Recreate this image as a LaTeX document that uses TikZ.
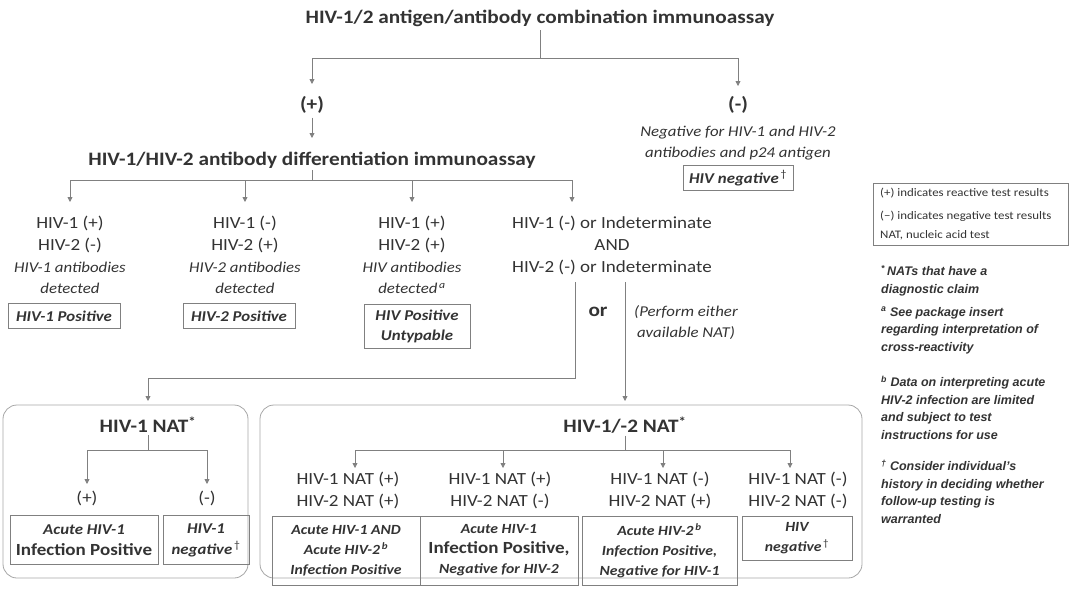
\documentclass[tikz,border=0pt]{standalone}
\usepackage{fontspec}
\setmainfont{Carlito}[FakeStretch=1.12]
\newfontfamily\notefont{Liberation Sans}
\usetikzlibrary{arrows.meta}
\definecolor{tx}{HTML}{333333}
\definecolor{ln}{HTML}{808080}
\begin{document}
\begin{tikzpicture}[x=1pt,y=-1pt,
  every node/.style={text=tx,inner sep=0pt,align=center},
  conn/.style={draw=ln,line width=0.8pt},
  arr/.style={conn,-{Triangle[length=5pt,width=5pt]}},
  res/.style={draw=ln,line width=0.8pt,font=\fontsize{15}{17}\selectfont\itshape\bfseries,minimum height=25pt,inner xsep=3pt},
  body/.style={font=\fontsize{17}{22}\selectfont},
  itl/.style={font=\fontsize{15}{21}\selectfont\itshape},
  hd/.style={font=\fontsize{19}{22}\selectfont\bfseries},
  rbox/.style={draw=ln!70,line width=0.8pt,rounded corners=14pt},
  note/.style={font=\notefont\fontsize{12.5}{17.5}\selectfont\bfseries\itshape,align=left,anchor=north west}]
\useasboundingbox (0,0) rectangle (1080,595);
% top
\node[hd] (t) at (540,18) {HIV-1/2 antigen/antibody combination immunoassay};
\coordinate (tb) at (540,58);
\node[hd] (p) at (312,105) {(+)};
\node[hd] (m) at (738,105) {(-)};
\draw[conn] ([yshift=-4pt]t.south) -- (tb);
\draw[arr] (tb) -| (312,84);
\draw[arr] (tb) -| (738,86);
\node[itl] (mt) at (738,143) {Negative for HIV-1 and HIV-2\\antibodies and p24 antigen};
\node[res,minimum width=110pt] (hn) at (738,178) {HIV negative\textsuperscript{\,\normalfont †}};
\node[hd] (d) at (312,160) {HIV-1/HIV-2 antibody differentiation immunoassay};
\draw[arr] ([yshift=-4pt]p.south) -- (312,138);
\coordinate (db) at (312,180);
\draw[conn] ([yshift=-2pt]d.south) -- (db);
% columns
\node[body,anchor=north] (c1) at (70,216) {HIV-1 (+)\\HIV-2 (-)};
\node[body,anchor=north] (c2) at (245,216) {HIV-1 (-)\\HIV-2 (+)};
\node[body,anchor=north] (c3) at (412,216) {HIV-1 (+)\\HIV-2 (+)};
\node[body,anchor=north] (c4) at (612,216) {HIV-1 (-) or Indeterminate\\AND\\HIV-2 (-) or Indeterminate};
\draw[arr] (db) -| (70,202);
\draw[arr] (db) -| (245,202);
\draw[arr] (db) -| (412,202);
\draw[arr] (db) -| (572,202);
\node[itl,anchor=north] (i1) at (70,262) {HIV-1 antibodies\\detected};
\node[itl,anchor=north] (i2) at (245,262) {HIV-2 antibodies\\detected};
\node[itl,anchor=north] (i3) at (412,262) {HIV antibodies\\detected\textsuperscript{\,a}};
\node[res,minimum width=112pt] (r1) at (64,316) {HIV-1 Positive};
\node[res,minimum width=112pt] (r2) at (239,316) {HIV-2 Positive};
\node[res,minimum width=106pt,minimum height=44pt,font=\fontsize{15}{20}\selectfont\itshape\bfseries] (r3) at (417,326) {HIV Positive\\Untypable};
\node[hd] (or) at (598,312) {or};
\node[itl] (pf) at (686,323) {(Perform either\\available NAT)};
% NAT boxes
\draw[rbox] (3,405) rectangle (248,578);
\draw[rbox] (260,405) rectangle (862,578);
\node[hd] (n1) at (148,425) {HIV-1 NAT\textsuperscript{*}};
\node[hd] (n2) at (625,425) {HIV-1/-2 NAT\textsuperscript{*}};
\coordinate (k1) at (575,282);
\draw[arr] (k1) -- (575,378) -| (148,401);
\draw[arr] (625,282) -- (625,401);
% HIV-1 NAT
\coordinate (nb1) at (148,450);
\draw[conn] ([yshift=-2pt]n1.south) -- (nb1);
\node[body] (a1) at (87,498) {(+)};
\node[body] (a2) at (207,498) {(-)};
\draw[arr] (nb1) -| (87,484);
\draw[arr] (nb1) -| (207,484);
\node[res,minimum width=148pt,minimum height=49pt,font=\fontsize{15}{21}\selectfont\itshape\bfseries] (b1) at (84,540) {Acute HIV-1\\{\normalfont\bfseries\fontsize{17}{21}\selectfont Infection Positive}};
\node[res,minimum width=86pt,minimum height=49pt,font=\fontsize{15}{21}\selectfont\itshape\bfseries] (b2) at (206,540) {HIV-1\\negative\textsuperscript{\,\normalfont †}};
% HIV-1/-2 NAT
\coordinate (nb2) at (625,450);
\draw[conn] ([yshift=-2pt]n2.south) -- (nb2);
\node[body,anchor=north] (e1) at (348,472) {HIV-1 NAT (+)\\HIV-2 NAT (+)};
\node[body,anchor=north] (e2) at (500,472) {HIV-1 NAT (+)\\HIV-2 NAT (-)};
\node[body,anchor=north] (e3) at (660,472) {HIV-1 NAT (-)\\HIV-2 NAT (+)};
\node[body,anchor=north] (e4) at (798,472) {HIV-1 NAT (-)\\HIV-2 NAT (-)};
\draw[arr] (nb2) -| (355,468);
\draw[arr] (nb2) -| (503,468);
\draw[arr] (nb2) -| (663,468);
\draw[arr] (nb2) -| (790,468);
\tikzset{rb/.style={res,minimum height=69pt,font=\fontsize{14}{20}\selectfont\itshape\bfseries}}
\node[rb,minimum width=148pt] (f1) at (346,550.5) {Acute HIV-1 AND\\Acute HIV-2\textsuperscript{\,b}\\Infection Positive};
\node[rb,minimum width=158pt] (f2) at (499,550.5) {Acute HIV-1\\{\normalfont\bfseries\fontsize{17}{21}\selectfont Infection Positive,}\\Negative for HIV-2};
\node[rb,minimum width=155pt] (f3) at (659.5,550.5) {Acute HIV-2\textsuperscript{\,b}\\Infection Positive,\\Negative for HIV-1};
\node[rb,minimum width=110pt,minimum height=44pt] (f4) at (797,538) {HIV\\negative\textsuperscript{\,\normalfont †}};
% legend
\node[draw=ln,line width=0.8pt,minimum width=195pt,minimum height=62pt] (lg) at (970.5,214) {};
\node[font=\fontsize{11.5}{14}\selectfont,anchor=west] (l1) at (880,193) {(+) indicates reactive test results};
\node[font=\fontsize{11.5}{14}\selectfont,anchor=west] (l2) at (880,216) {(\textminus) indicates negative test results};
\node[font=\fontsize{11.5}{14}\selectfont,anchor=west] (l3) at (880,235) {NAT, nucleic acid test};
\node[note] (fn1) at (881,265) {\textsuperscript{*}\,NATs that have a\\diagnostic claim};
\node[note] (fn2) at (881,307) {\textsuperscript{a} See package insert\\regarding interpretation of\\cross-reactivity};
\node[note] (fn3) at (881,376) {\textsuperscript{b} Data on interpreting acute\\HIV-2 infection are limited\\and subject to test\\instructions for use};
\node[note] (fn4) at (881,460) {\textsuperscript{†} Consider individual’s\\history in deciding whether\\follow-up testing is\\warranted};
\end{tikzpicture}
\end{document}
